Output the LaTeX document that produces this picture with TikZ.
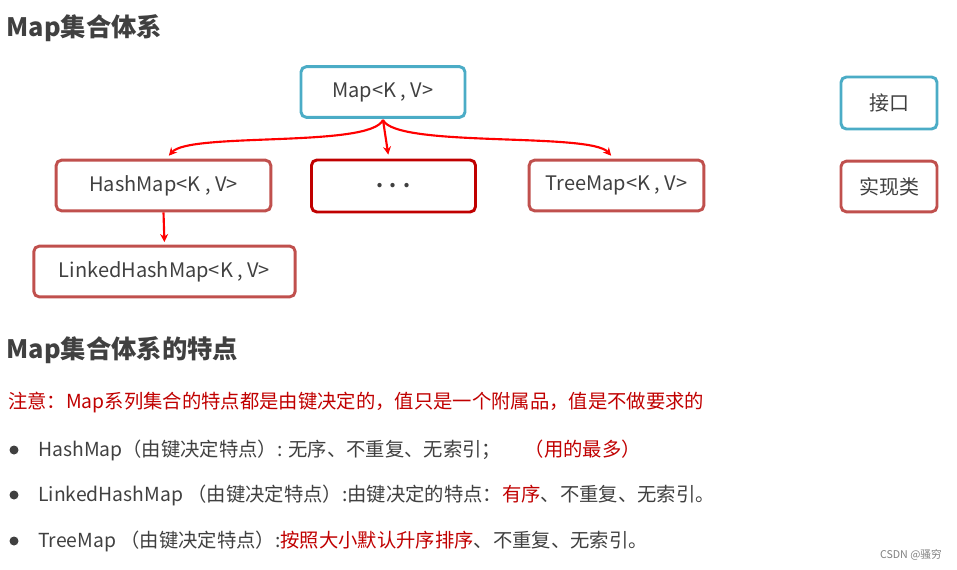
\documentclass[tikz,border=0pt]{standalone}
\usepackage{fontspec}
\setmainfont{Noto Sans CJK SC}
\usetikzlibrary{arrows.meta}
\definecolor{ibl}{HTML}{4BACC6}
\definecolor{ird}{HTML}{C0504D}
\definecolor{drd}{HTML}{C00000}
\definecolor{txt}{HTML}{404040}
\tikzset{
 box/.style={draw, rounded corners=4pt, line width=2.2pt, inner sep=0pt, text=txt, font=\fontsize{15}{17}\selectfont},
 ar/.style={red, line width=1.6pt, -{Stealth[length=6pt,width=6pt]}},
 tl/.style={anchor=west, font=\fontsize{19}{22}\selectfont\bfseries, text=txt},
 bt/.style={anchor=west, font=\fontsize{14.5}{17}\selectfont, text=txt, inner sep=0pt}
}
\begin{document}
\begin{tikzpicture}[x=0.75pt,y=-0.75pt]
\useasboundingbox (0,0) rectangle (957,570);
\node[tl] (t1) at (2,28) {Map集合体系};
\node[box, draw=ibl, minimum width=123pt, minimum height=38pt] (map) at (383,92) {Map<K , V>};
\node[box, draw=ird, minimum width=161pt, minimum height=38pt] (hm) at (163.5,185.5) {HashMap<K , V>};
\node[box, draw=drd, minimum width=123pt, minimum height=39pt] (dots) at (393.5,186) {\textbf{. . .}};
\node[box, draw=ird, minimum width=131pt, minimum height=38pt] (tm) at (616.5,185.5) {TreeMap<K , V>};
\node[box, draw=ird, minimum width=196pt, minimum height=38pt] (lhm) at (164.5,271.5) {LinkedHashMap<K , V>};
\node[box, draw=ibl, minimum width=72pt, minimum height=39pt] (jk) at (889,103) {接口};
\node[box, draw=ird, minimum width=72pt, minimum height=38pt] (sx) at (889,186.5) {实现类};
\coordinate (o) at (383,120);
\draw[ar, shorten >=3pt] (o) .. controls (370,148) and (190,132) .. ([xshift=2pt]hm.north);
\draw[ar, shorten >=3pt] (o) -- ([xshift=-3.5pt]dots.north);
\draw[ar, shorten >=3pt] (o) .. controls (396,148) and (590,132) .. ([xshift=-2pt]tm.north);
\draw[ar, shorten >=2pt] (hm.south) -- (lhm.north);
\node[tl] (t2) at (2,350) {Map集合体系的特点};
\node[bt, text=drd] (n) at (8,403) {注意：Map系列集合的特点都是由键决定的，值只是一个附属品，值是不做要求的};
\foreach \y/\nm in {450/a,495/b,541/c} \fill[txt] (14,\y) circle (4.5) coordinate (\nm);
\node[bt] (l1) at (38,450) {HashMap（由键决定特点）: 无序、不重复、无索引；\quad\ \textcolor{drd}{（用的最多）}};
\node[bt] (l2) at (38,495) {LinkedHashMap （由键决定特点）:由键决定的特点：\textcolor{drd}{有序}、不重复、无索引。};
\node[bt] (l3) at (38,541) {TreeMap （由键决定特点）:\textcolor{drd}{按照大小默认升序排序}、不重复、无索引。};
\node[anchor=east, font=\fontsize{8}{9}\selectfont, text=gray, inner sep=0pt] (cs) at (942,555) {CSDN @骚穷};
\end{tikzpicture}
\end{document}
